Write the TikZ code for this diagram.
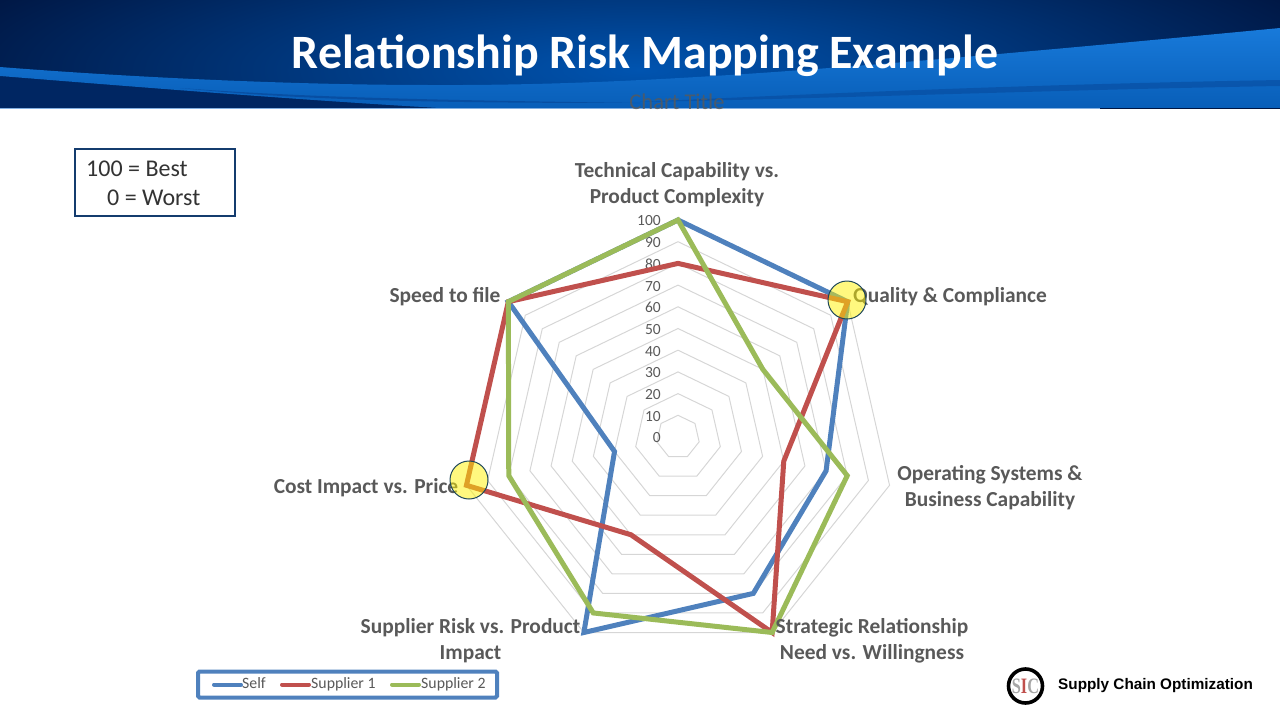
\documentclass[tikz,border=0pt]{standalone}
\usepackage{fontspec}
\setmainfont{Carlito}
\newfontfamily\logofont{Liberation Sans}
\newfontfamily\logoserif{Liberation Serif}
\usetikzlibrary{positioning,shadows}
\definecolor{selfblue}{RGB}{79,129,189}
\definecolor{supred}{RGB}{192,80,77}
\definecolor{supgreen}{RGB}{155,187,89}
\definecolor{labelgray}{RGB}{89,89,89}
\definecolor{navy}{RGB}{0,22,66}
\definecolor{glowblue}{RGB}{0,84,176}
\definecolor{lowblue}{RGB}{0,38,98}
\definecolor{bandtop}{RGB}{24,122,218}
\definecolor{bandlow}{RGB}{8,94,184}
\definecolor{streakblue}{RGB}{6,66,146}
\definecolor{edgeblue}{RGB}{130,175,225}
\definecolor{noteblue}{RGB}{20,60,110}
\definecolor{markedge}{RGB}{30,70,90}
\tikzset{
  axis label/.style={font=\fontsize{21.4}{26}\selectfont\bfseries, text=labelgray, align=center, inner sep=0pt},
  tick label/.style={font=\fontsize{15.5}{16}\selectfont, text=labelgray, anchor=east, inner sep=0pt, xshift=-17pt},
  ring line/.style={draw=black!16, line width=1pt},
  series line/.style={line width=5pt, line join=miter},
  legend entry/.style={font=\fontsize{15.8}{16}\selectfont, text=labelgray, anchor=west, inner sep=0pt, text height=11pt, text depth=3pt},
  legend key/.style={line width=4pt, line cap=round},
  risk marker/.style={circle, draw=markedge, line width=1pt, minimum size=38pt, inner sep=0pt, fill=yellow, fill opacity=.5}
}
\begin{document}
\begin{tikzpicture}[x=1pt, y=-1pt]
    \useasboundingbox (0,0) rectangle (1280,720);

    % Banner
    \begin{scope}
      \clip (0,0) rectangle (1280,108);
      \shade [inner color=glowblue, outer color=navy] (-100,-90) rectangle (1380,230);
      \fill [lowblue] (0,76) .. controls (150,88) and (300,100) .. (440,108) -- (0,108) -- cycle;
      \shade [top color=bandtop, bottom color=bandlow] (0,67) .. controls (140,78) and (300,85) .. (430,85)
        .. controls (640,86) and (860,68) .. (1280,28) -- (1280,108) -- (440,108)
        .. controls (300,100) and (150,88) .. (0,76) -- cycle;
      \fill [streakblue, opacity=.45] (640,102) .. controls (850,92) and (1050,84) .. (1280,80) -- (1280,86) .. controls (1050,90) and (850,98) .. (640,102) -- cycle;
      \fill [streakblue, opacity=.6] (180,88) .. controls (300,97) and (420,100) .. (640,103) .. controls (420,103) and (300,100) .. (180,88) -- cycle;
    \end{scope}
    \draw [edgeblue, line width=1pt] (0,108.5) -- (1100,108.5);
    \draw [navy, line width=1pt] (1100,108.5) -- (1280,108.5);
    \node [font=\fontsize{47.9}{50}\selectfont\bfseries, text=white, inner sep=0pt] (Title) at (645,56) {Relationship Risk Mapping Example};
    \node [font=\fontsize{22.5}{24}\selectfont, text=labelgray, text opacity=.8, inner sep=0pt] (ChartTitle) at (677,101.5) {Chart Title};

    % Best and worst note
    \node [draw=noteblue, line width=1.3pt, fill=white, minimum width=160pt, minimum height=67pt, inner sep=0pt,
      drop shadow={shadow xshift=0pt, shadow yshift=1.5pt, opacity=.3}] (Note) at (155,182.5) {};
    \node [font=\fontsize{24}{29}\selectfont, text=black!80, anchor=west, inner sep=0pt] (NoteBest) at (86,169) {100 = Best};
    \node [font=\fontsize{24}{29}\selectfont, text=black!80, anchor=west, inner sep=0pt] (NoteWorst) at (107,198) {0 = Worst};

    % Rings, ticks and series around the chart centre
    \begin{scope}[shift={(678,437)}, x=2.17pt, y=-2.17pt]
      \foreach \r in {10,20,...,100}
        \draw [ring line] (-90:\r) -- (-38.57:\r) -- (12.86:\r) -- (64.29:\r) -- (115.71:\r) -- (167.14:\r) -- (218.57:\r) -- cycle;
      \foreach \v in {0,10,...,100}
        \node [tick label, yshift=-1pt] (Tick\v) at (-90:\v) {\v};

      % Series
      \draw [series line, selfblue] (-90:100) -- (-38.57:100) -- (12.86:70) -- (64.29:80) -- (115.71:100) -- (167.14:30) -- (218.57:100) -- cycle;
      \draw [series line, supred] (-90:80) -- (-38.57:100) -- (12.86:50) -- (64.29:100) -- (115.71:50) -- (167.14:100) -- (218.57:100) -- cycle;
      \draw [series line, supgreen] (-90:100) -- (-38.57:50) -- (12.86:80) -- (64.29:100) -- (115.71:90) -- (167.14:80) -- (218.57:100) -- cycle;
    \end{scope}

    % Axis labels
    \node [axis label] (Technical) at (677,185) {Technical Capability vs.\\Product Complexity};
    \node [axis label] (Quality) at (950,297) {Quality \& Compliance};
    \node [axis label] (Operating) at (990,488) {Operating Systems \&\\Business Capability};
    \node [axis label] (Strategic) at (872,641) {Strategic Relationship\\Need vs. Willingness};
    \node [axis label] (SupplierRisk) at (470.5,641) {Supplier Risk vs. Product\\Impact};
    \node [axis label] (Cost) at (366,488) {Cost Impact vs. Price};
    \node [axis label] (Speed) at (445,297) {Speed to file};

    % Yellow markers go over lines and labels
    \node [risk marker] (QualityMark) at (847,300) {};
    \node [risk marker] (CostMark) at (469,480) {};

    % Legend
    \node [draw=selfblue, line width=4pt, rounded corners=1.5pt, fill=white, minimum width=299pt, minimum height=26pt, inner sep=0pt] (Legend) at (347.5,684.5) {};
    \coordinate (SelfA) at (214,684.5);
    \coordinate (SelfB) at (241,684.5);
    \coordinate (OneA) at (282,684.5);
    \coordinate (OneB) at (309,684.5);
    \coordinate (TwoA) at (392,684.5);
    \coordinate (TwoB) at (419,684.5);
    \draw [legend key, selfblue] (SelfA) -- (SelfB);
    \draw [legend key, supred] (OneA) -- (OneB);
    \draw [legend key, supgreen] (TwoA) -- (TwoB);
    \node [legend entry, right=1pt of SelfB] (SelfText) {Self};
    \node [legend entry, right=2pt of OneB] (OneText) {Supplier 1};
    \node [legend entry, right=2pt of TwoB] (TwoText) {Supplier 2};

    % Logo
    \node [circle, draw=black, line width=3.6pt, minimum size=34pt, inner sep=0pt, font=\logoserif\fontsize{22}{22}\selectfont\bfseries, text=black!35] (Logo) at (1025.5,686) {\scalebox{.74}[1]{S\textcolor{supred}{I}C}};
    \node [font=\logofont\fontsize{15.3}{18}\selectfont\bfseries, anchor=west, inner sep=0pt] (LogoText) at (1058,685.5) {Supply Chain Optimization};
\end{tikzpicture}
\end{document}
